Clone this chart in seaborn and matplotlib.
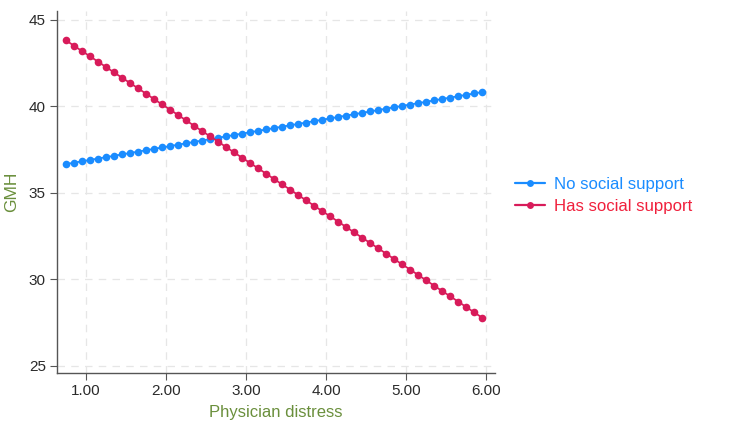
import numpy as np
import pandas as pd
import matplotlib
matplotlib.use("Agg")
import matplotlib.pyplot as plt
import seaborn as sns
from matplotlib.lines import Line2D

# Physician distress values (x) shared by both series
physician_distress = [
    0.75, 0.85, 0.95, 1.05, 1.15, 1.25, 1.35, 1.45, 1.55, 1.65,
    1.75, 1.85, 1.95, 2.05, 2.15, 2.25, 2.35, 2.45, 2.55, 2.65,
    2.75, 2.85, 2.95, 3.05, 3.15, 3.25, 3.35, 3.45, 3.55, 3.65,
    3.75, 3.85, 3.95, 4.05, 4.15, 4.25, 4.35, 4.45, 4.55, 4.65,
    4.75, 4.85, 4.95, 5.05, 5.15, 5.25, 5.35, 5.45, 5.55, 5.65,
    5.75, 5.85, 5.95,
]

gmh_no_support = [
    36.65, 36.73, 36.81, 36.89, 36.97, 37.05, 37.13, 37.21, 37.29, 37.37,
    37.45, 37.53, 37.61, 37.69, 37.77, 37.85, 37.93, 38.01, 38.09, 38.17,
    38.25, 38.33, 38.41, 38.49, 38.57, 38.65, 38.73, 38.81, 38.89, 38.97,
    39.05, 39.13, 39.21, 39.29, 39.37, 39.45, 39.53, 39.61, 39.69, 39.77,
    39.85, 39.93, 40.01, 40.09, 40.17, 40.25, 40.33, 40.41, 40.49, 40.57,
    40.65, 40.73, 40.81,
]

gmh_has_support = [
    43.80, 43.49, 43.18, 42.88, 42.57, 42.26, 41.95, 41.64, 41.34, 41.03,
    40.72, 40.41, 40.10, 39.80, 39.49, 39.18, 38.87, 38.56, 38.26, 37.95,
    37.64, 37.33, 37.02, 36.72, 36.41, 36.10, 35.79, 35.48, 35.18, 34.87,
    34.56, 34.25, 33.94, 33.64, 33.33, 33.02, 32.71, 32.40, 32.10, 31.79,
    31.48, 31.17, 30.86, 30.56, 30.25, 29.94, 29.63, 29.32, 29.02, 28.71,
    28.40, 28.09, 27.78,
]

series_names = ["No social support", "Has social support"]
x_ticks = [1.0, 2.0, 3.0, 4.0, 5.0, 6.0]
x_tick_labels = ["1.00", "2.00", "3.00", "4.00", "5.00", "6.00"]
y_ticks = [25, 30, 35, 40, 45]

df = pd.DataFrame({
    "x": physician_distress * 2,
    "y": gmh_no_support + gmh_has_support,
    "group": [series_names[0]] * len(physician_distress) + [series_names[1]] * len(physician_distress),
})

blue = "#1a8cff"
crimson = "#d81b5a"
red_text = "#f0203c"
green = "#6a8f3c"

sns.set_style("white")
plt.rcParams["font.family"] = ["Liberation Sans", "DejaVu Sans"]

fig = plt.figure(figsize=(7.41, 4.34), dpi=100)
ax = fig.add_axes([0.077, 0.141, 0.591, 0.834])

sns.lineplot(data=df, x="x", y="y", hue="group", hue_order=series_names,
             palette=[blue, crimson], marker="o", markersize=5.5,
             markeredgewidth=0, linewidth=1.3, ax=ax, legend=False)

ax.set_xlim(0.64, 6.11)
ax.set_ylim(24.6, 45.5)
ax.set_xticks(x_ticks)
ax.set_xticklabels(x_tick_labels)
ax.set_yticks(y_ticks)

ax.grid(True, linestyle=(0, (6, 5)), color="#e6e6e6", linewidth=0.9)
ax.set_axisbelow(True)
for s in ["top", "right"]:
    ax.spines[s].set_visible(False)
for s in ["left", "bottom"]:
    ax.spines[s].set_color("#555555")
    ax.spines[s].set_linewidth(1.0)
ax.tick_params(axis="both", direction="out", length=5, width=0.8, color="#555555",
               labelsize=11, labelcolor="#2a2a2a", pad=3, left=True, bottom=True)

ax.set_xlabel("Physician distress", color=green, fontsize=12, labelpad=5)
ax.set_ylabel("GMH", color=green, fontsize=12.5, labelpad=7)

handles = [
    Line2D([0], [0], color=blue, linewidth=1.6, marker="o", markersize=5, markeredgewidth=0),
    Line2D([0], [0], color=crimson, linewidth=1.6, marker="o", markersize=5, markeredgewidth=0),
]
leg = ax.legend(handles, series_names, loc="center left", bbox_to_anchor=(1.046, 0.49),
                frameon=False, fontsize=12.1, handlelength=1.8, handletextpad=0.5,
                labelspacing=0.4, borderpad=0, borderaxespad=0)
leg.get_texts()[0].set_color(blue)
leg.get_texts()[1].set_color(red_text)

fig.savefig("out.png", dpi=100)
